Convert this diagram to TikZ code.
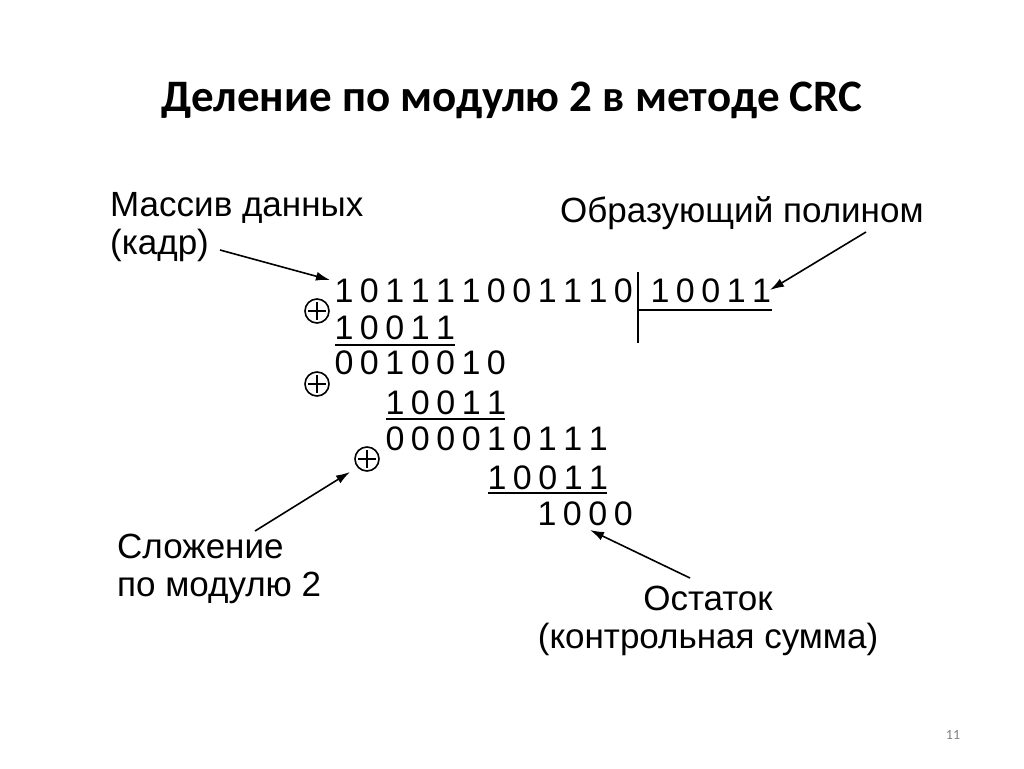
\documentclass[tikz,border=0pt]{standalone}
\usepackage{fontspec}
\usetikzlibrary{arrows.meta}
\setmainfont{Liberation Sans}
\newfontfamily\titlefont{Carlito}
\begin{document}
\begin{tikzpicture}[x=1pt,y=-1pt,
  lbl/.style={font=\fontsize{35}{38}\selectfont,align=left,inner sep=0pt},
  dg/.style={font=\fontsize{34}{34}\selectfont,inner sep=0pt,anchor=base},
  arr/.style={-{Latex[length=14pt,width=9pt]},line width=1.6pt},
  ln/.style={line width=1.8pt},
  xo/.style={circle,draw,line width=1.6pt,minimum size=24pt,inner sep=0pt}]
\useasboundingbox (0,0) rectangle (1024,768);
\node[font=\titlefont\bfseries\fontsize{45}{46}\selectfont] (title) at (512,100) {Деление по модулю 2 в методе CRC};
\newcommand\digrow[3]{\foreach \d [count=\i from 0] in {#3} {\node[dg] at ({#1+25.4*\i},#2) {\d};}}
\digrow{344}{302}{1,0,1,1,1,1,0,0,1,1,1,0}
\digrow{660}{302}{1,0,0,1,1}
\digrow{344}{339}{1,0,0,1,1}
\digrow{344}{374}{0,0,1,0,0,1,0}
\digrow{395}{414}{1,0,0,1,1}
\digrow{395}{450}{0,0,0,0,1,0,1,1,1}
\digrow{497}{489}{1,0,0,1,1}
\digrow{547}{525}{1,0,0,0}
\draw[ln] (638,272) -- (638,343);
\draw[ln] (638,310) -- (772,310);
\draw[ln] (335,345) -- (455,345);
\draw[ln] (386,419) -- (505,419);
\draw[ln] (488,493) -- (607,493);
\node[xo] (x1) at (317,311) {};
\node[xo] (x2) at (317,384) {};
\node[xo] (x3) at (367,459) {};
\foreach \c in {x1,x2,x3}{\draw[line width=1.6pt] ([yshift=-4pt]\c.north) -- ([yshift=4pt]\c.south) ([xshift=4pt]\c.west) -- ([xshift=-4pt]\c.east);}
\node[lbl,anchor=north west] (mass) at (110,192) {Массив данных\\(кадр)};
\node[lbl,anchor=north west] (poly) at (560,196) {Образующий полином};
\node[lbl,anchor=north west] (add) at (117,534) {Сложение\\по модулю 2};
\node[lbl,anchor=north,align=center] (rem) at (708,586) {Остаток\\(контрольная сумма)};
\coordinate (t1) at (330,280);
\coordinate (t2) at (770,290);
\coordinate (t3) at (350,472);
\coordinate (t4) at (590,530);
\draw[arr] (220,250) -- (t1);
\draw[arr] (866,232) -- (t2);
\draw[arr] (255,531) -- (t3);
\draw[arr] (690,578) -- (t4);
\node[font=\titlefont\fontsize{14}{14}\selectfont,text=gray] (pg) at (953,735) {11};
\end{tikzpicture}
\end{document}
